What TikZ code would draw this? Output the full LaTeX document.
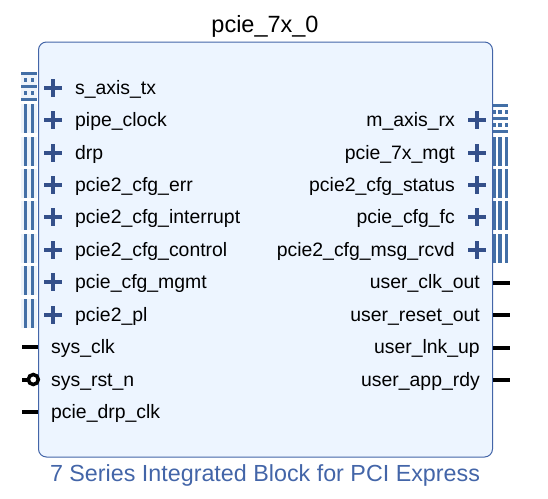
\documentclass[tikz,border=0pt]{standalone}
\usepackage{fontspec}
\setmainfont{Liberation Sans}
\definecolor{ipFill}{HTML}{EDF5FF}
\definecolor{ipBorder}{HTML}{4365A8}
\definecolor{ipPlus}{HTML}{34508A}
\definecolor{ipBus}{HTML}{436FA6}
\definecolor{ipBusPale}{HTML}{EDF3FA}
\tikzset{
  blockbox/.style={draw=ipBorder, fill=ipFill, line width=1pt, rounded corners=8pt},
  pinlabel/.style={font=\fontsize{19.4}{22}\selectfont, text=black, inner sep=0pt},
  wirepin/.style={draw=black, line width=4pt},
  plusarm/.style={draw=ipPlus, line width=3.4pt},
  busbar/.style={fill=ipBus},
  buspale/.style={fill=ipBusPale}
}
\begin{document}
\begin{tikzpicture}
% block symbol, all lengths in reference pixels
\providecommand{\ipPlusPin}[2]{\draw[plusarm] (#1-9,#2) -- (#1+9,#2); \draw[plusarm] (#1,#2-9) -- (#1,#2+9);}
% left side: two bars on a pale strip
\providecommand{\ipBusPin}[2]{%
  \fill[buspale] (#1,#2-16) rectangle ++(16,29);
  \fill[busbar] (#1+3,#2-16) rectangle ++(3,29);
  \fill[busbar] (#1+10,#2-16) rectangle ++(3,29);}
\providecommand{\ipBusHead}[2]{%
  \fill[buspale] (#1,#2-16) rectangle ++(16,29);
  \fill[busbar] (#1,#2-16) rectangle ++(16,3);
  \fill[busbar] (#1,#2-3) rectangle ++(16,3);
  \fill[busbar] (#1,#2+10) rectangle ++(16,3);
  \fill[busbar] (#1+3,#2-10) rectangle ++(3,4);
  \fill[busbar] (#1+10,#2-10) rectangle ++(3,4);
  \fill[busbar] (#1+3,#2+3) rectangle ++(3,4);
  \fill[busbar] (#1+10,#2+3) rectangle ++(3,4);}
% right side: three bars
\providecommand{\ipBusPinR}[2]{%
  \fill[busbar] (#1,#2-16) rectangle ++(2.5,29);
  \fill[busbar] (#1+5,#2-16) rectangle ++(4,29);
  \fill[busbar] (#1+12,#2-16) rectangle ++(3,29);}
\providecommand{\ipBusHeadR}[2]{%
  \fill[busbar] (#1,#2-16) rectangle ++(15,3);
  \fill[busbar] (#1,#2-3) rectangle ++(15,3);
  \fill[busbar] (#1,#2+10) rectangle ++(15,3);
  \fill[busbar] (#1,#2-10) rectangle ++(2.5,4);
  \fill[busbar] (#1+5,#2-10) rectangle ++(4,4);
  \fill[busbar] (#1+12,#2-10) rectangle ++(3,4);
  \fill[busbar] (#1,#2+3) rectangle ++(2.5,4);
  \fill[busbar] (#1+5,#2+3) rectangle ++(4,4);
  \fill[busbar] (#1+12,#2+3) rectangle ++(3,4);}
\begin{scope}[x=1pt, y=-1pt]
  \useasboundingbox (0,0) rectangle (548,498);
  % Bus pins go under the body outline
  % Left bus pins
  \ipBusHead{21}{88}
  \ipBusPin{21}{120}
  \ipBusPin{21}{153}
  \ipBusPin{21}{185}
  \ipBusPin{21}{217}
  \ipBusPin{21}{250}
  \ipBusPin{21}{282}
  \ipBusPin{21}{315}
  % Right bus pins
  \ipBusHeadR{493}{120}
  \ipBusPinR{493}{153}
  \ipBusPinR{493}{185}
  \ipBusPinR{493}{217}
  \ipBusPinR{493}{250}
  % Body and titles
  \node[blockbox, minimum width=454pt, minimum height=415pt, inner sep=0pt] (block) at (265.5,249.5) {};
  \node[font=\fontsize{23.5}{28}\selectfont, anchor=base, inner sep=0pt] (title) at (265,32) {pcie\_7x\_0};
  \node[font=\fontsize{23.3}{28}\selectfont, text=ipBorder, anchor=base, inner sep=0pt] (subtitle) at (265,481) {7 Series Integrated Block for PCI Express};
  % Plus marks
  \ipPlusPin{53}{88}
  \ipPlusPin{53}{120}
  \ipPlusPin{53}{153}
  \ipPlusPin{53}{185}
  \ipPlusPin{53}{217}
  \ipPlusPin{53}{250}
  \ipPlusPin{53}{282}
  \ipPlusPin{53}{315}
  \ipPlusPin{477}{120}
  \ipPlusPin{477}{153}
  \ipPlusPin{477}{185}
  \ipPlusPin{477}{217}
  \ipPlusPin{477}{250}
  % Wire pins
  \draw[wirepin] (22,347) -- (38,347);
  \draw[wirepin] (22,379.5) -- (29,379.5);
  \draw[draw=black, line width=3.5pt] (33.3,379.5) circle (5);
  \draw[wirepin] (22,412) -- (38,412);
  \draw[wirepin] (493,282.5) -- (509.5,282.5);
  \draw[wirepin] (493,314.5) -- (509.5,314.5);
  \draw[wirepin] (493,347.5) -- (509.5,347.5);
  \draw[wirepin] (493,379.5) -- (509.5,379.5);
  % Left labels
  \node[pinlabel, anchor=base west] (saxistx) at (75,94) {s\_axis\_tx};
  \node[pinlabel, anchor=base west] (pipeclock) at (75,126) {pipe\_clock};
  \node[pinlabel, anchor=base west] (drp) at (75,159) {drp};
  \node[pinlabel, anchor=base west] (cfgerr) at (75,191) {pcie2\_cfg\_err};
  \node[pinlabel, anchor=base west] (cfginterrupt) at (75,223) {pcie2\_cfg\_interrupt};
  \node[pinlabel, anchor=base west] (cfgcontrol) at (75,256) {pcie2\_cfg\_control};
  \node[pinlabel, anchor=base west] (cfgmgmt) at (75,288) {pcie\_cfg\_mgmt};
  \node[pinlabel, anchor=base west] (pl) at (75,321) {pcie2\_pl};
  \node[pinlabel, anchor=base west] (sysclk) at (51,353) {sys\_clk};
  \node[pinlabel, anchor=base west] (sysrstn) at (51,386) {sys\_rst\_n};
  \node[pinlabel, anchor=base west] (drpclk) at (51,418) {pcie\_drp\_clk};
  % Right labels
  \node[pinlabel, anchor=base east] (maxisrx) at (455,126) {m\_axis\_rx};
  \node[pinlabel, anchor=base east] (mgt) at (455,159) {pcie\_7x\_mgt};
  \node[pinlabel, anchor=base east] (cfgstatus) at (455,191) {pcie2\_cfg\_status};
  \node[pinlabel, anchor=base east] (cfgfc) at (455,223) {pcie\_cfg\_fc};
  \node[pinlabel, anchor=base east] (cfgmsg) at (455,256) {pcie2\_cfg\_msg\_rcvd};
  \node[pinlabel, anchor=base east] (userclk) at (480,288) {user\_clk\_out};
  \node[pinlabel, anchor=base east] (userreset) at (480,321) {user\_reset\_out};
  \node[pinlabel, anchor=base east] (userlnk) at (480,353) {user\_lnk\_up};
  \node[pinlabel, anchor=base east] (userapp) at (480,386) {user\_app\_rdy};
\end{scope}
\end{tikzpicture}
\end{document}
